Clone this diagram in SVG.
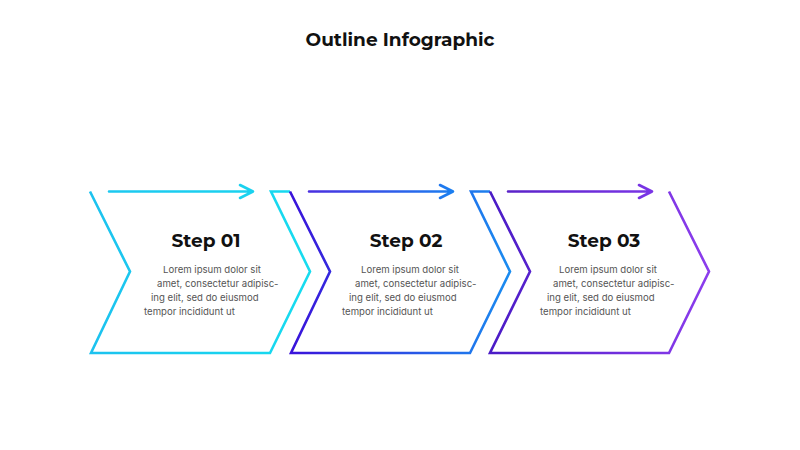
<svg xmlns="http://www.w3.org/2000/svg" width="800" height="450" viewBox="0 0 800 450">
<defs>
<linearGradient id="g1" gradientUnits="userSpaceOnUse" x1="90" y1="0" x2="310" y2="0">
<stop offset="0" stop-color="#1cc2ef"/><stop offset="1" stop-color="#17dcef"/>
</linearGradient>
<linearGradient id="g2" gradientUnits="userSpaceOnUse" x1="290" y1="0" x2="510" y2="0">
<stop offset="0" stop-color="#3a12da"/><stop offset="1" stop-color="#1a8cf0"/>
</linearGradient>
<linearGradient id="g3" gradientUnits="userSpaceOnUse" x1="490" y1="0" x2="710" y2="0">
<stop offset="0" stop-color="#4a1bc6"/><stop offset="1" stop-color="#8c3ded"/>
</linearGradient>
<linearGradient id="a1" gradientUnits="userSpaceOnUse" x1="108" y1="0" x2="254" y2="0">
<stop offset="0" stop-color="#1cc8f0"/><stop offset="1" stop-color="#1ad2ef"/>
</linearGradient>
<linearGradient id="a2" gradientUnits="userSpaceOnUse" x1="308" y1="0" x2="454" y2="0">
<stop offset="0" stop-color="#4a2ee0"/><stop offset="1" stop-color="#1a7ff0"/>
</linearGradient>
<linearGradient id="a3" gradientUnits="userSpaceOnUse" x1="507" y1="0" x2="653" y2="0">
<stop offset="0" stop-color="#5a22c8"/><stop offset="1" stop-color="#7a35e6"/>
</linearGradient>
</defs>
<style>
.sh{fill:none;stroke-width:2.6;stroke-linejoin:miter;stroke-linecap:butt}
.ar{fill:none;stroke-width:2.6;stroke-linecap:round;stroke-linejoin:round}
.title{font-family:Montserrat,"Inter","Liberation Sans",sans-serif;font-weight:700;font-size:18.5px;fill:#111}
.step{font-family:Montserrat,"Inter","Liberation Sans",sans-serif;font-weight:700;font-size:18.5px;fill:#111}
.body{font-family:"Inter","Liberation Sans",sans-serif;font-size:9.6px;fill:#555}
</style>
<rect width="800" height="450" fill="#ffffff"/>
<text class="title" x="400" y="46" text-anchor="middle">Outline Infographic</text>

<g id="step1">
<path class="sh" stroke="url(#g1)" d="M90 191.5 L130 271.5 L91 353 L270 353 L310 271.5 L271 191.5 L290 191.5"/>
<text class="step" x="206" y="247" text-anchor="middle">Step 01</text>
<text class="body"><tspan x="163" y="272.5">Lorem ipsum dolor sit</tspan><tspan x="157" y="286.5">amet, consectetur adipisc-</tspan><tspan x="151" y="300.5">ing elit, sed do eiusmod</tspan><tspan x="144" y="314.5">tempor incididunt ut</tspan></text>
</g>

<g id="step2">
<path class="sh" stroke="url(#g2)" d="M290 191.5 L330 271.5 L291 353 L470 353 L510 271.5 L471 191.5 L490 191.5"/>
<text class="step" x="406" y="247" text-anchor="middle">Step 02</text>
<text class="body"><tspan x="361" y="272.5">Lorem ipsum dolor sit</tspan><tspan x="355" y="286.5">amet, consectetur adipisc-</tspan><tspan x="349" y="300.5">ing elit, sed do eiusmod</tspan><tspan x="342" y="314.5">tempor incididunt ut</tspan></text>
</g>

<g id="step3">
<path class="sh" stroke="url(#g3)" d="M490 191.5 L530 271.5 L490 353 L669 353 L709 271.5 L669 191.5"/>
<text class="step" x="604" y="247" text-anchor="middle">Step 03</text>
<text class="body"><tspan x="559" y="272.5">Lorem ipsum dolor sit</tspan><tspan x="553" y="286.5">amet, consectetur adipisc-</tspan><tspan x="547" y="300.5">ing elit, sed do eiusmod</tspan><tspan x="540" y="314.5">tempor incididunt ut</tspan></text>
</g>

<g id="connectors">
<path class="ar" stroke="url(#a1)" d="M109 191.5 L253 191.5 M240 185 L253 191.5 L240 198"/>
<path class="ar" stroke="url(#a2)" d="M309 191.5 L453 191.5 M440 185 L453 191.5 L440 198"/>
<path class="ar" stroke="url(#a3)" d="M508 191.5 L652 191.5 M639 185 L652 191.5 L639 198"/>
</g>
</svg>
